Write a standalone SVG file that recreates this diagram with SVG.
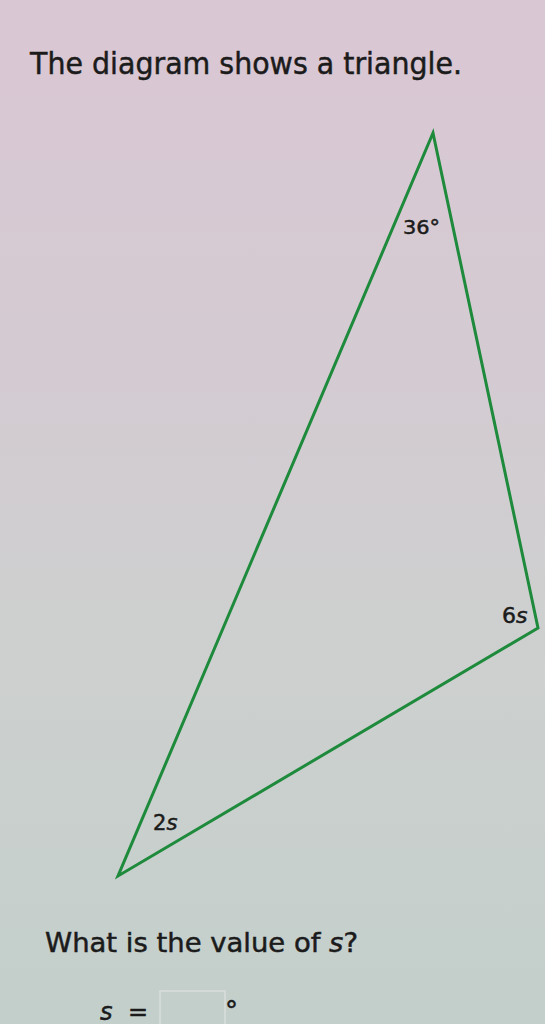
<svg xmlns="http://www.w3.org/2000/svg" width="545" height="1024" viewBox="0 0 545 1024">
<defs>
<linearGradient id="bg" x1="0" y1="0" x2="0" y2="1">
<stop offset="0" stop-color="#dac7d4"/>
<stop offset="0.35" stop-color="#d4cbd2"/>
<stop offset="0.65" stop-color="#cdd0cf"/>
<stop offset="1" stop-color="#c3cfca"/>
</linearGradient>
<style>
.t{font-family:"DejaVu Sans",Verdana,sans-serif;fill:#1b1b1b;stroke:#1b1b1b;stroke-width:0.5}
.edge{fill:none;stroke:#1e8a3c;stroke-width:3;stroke-linejoin:miter}
</style>
</defs>
<rect width="545" height="1024" fill="url(#bg)"/>
<g id="title">
<text class="t" x="30" y="74" font-size="31" textLength="432" lengthAdjust="spacingAndGlyphs">The diagram shows a triangle.</text>
</g>
<g id="connectors">
<polygon class="edge" points="433,133 538,628 118,876"/>
</g>
<g id="angle-top">
<text class="t" x="403" y="234" font-size="20" textLength="37" lengthAdjust="spacingAndGlyphs">36°</text>
</g>
<g id="angle-right">
<text class="t" x="502" y="623" font-size="22">6<tspan font-style="italic">s</tspan></text>
</g>
<g id="angle-left">
<text class="t" x="153" y="830" font-size="21">2<tspan font-style="italic">s</tspan></text>
</g>
<g id="question">
<text class="t" x="45" y="952" font-size="27" textLength="313" lengthAdjust="spacingAndGlyphs">What is the value of <tspan font-style="italic">s</tspan>?</text>
</g>
<g id="answer">
<text class="t" x="100" y="1020" font-size="24" font-style="italic">s</text>
<text class="t" x="128" y="1020" font-size="24">=</text>
<rect x="160" y="991" width="65" height="40" fill="none" stroke="#d9dedb" stroke-width="1.5"/>
<text class="t" x="225" y="1020" font-size="26">°</text>
</g>
</svg>
